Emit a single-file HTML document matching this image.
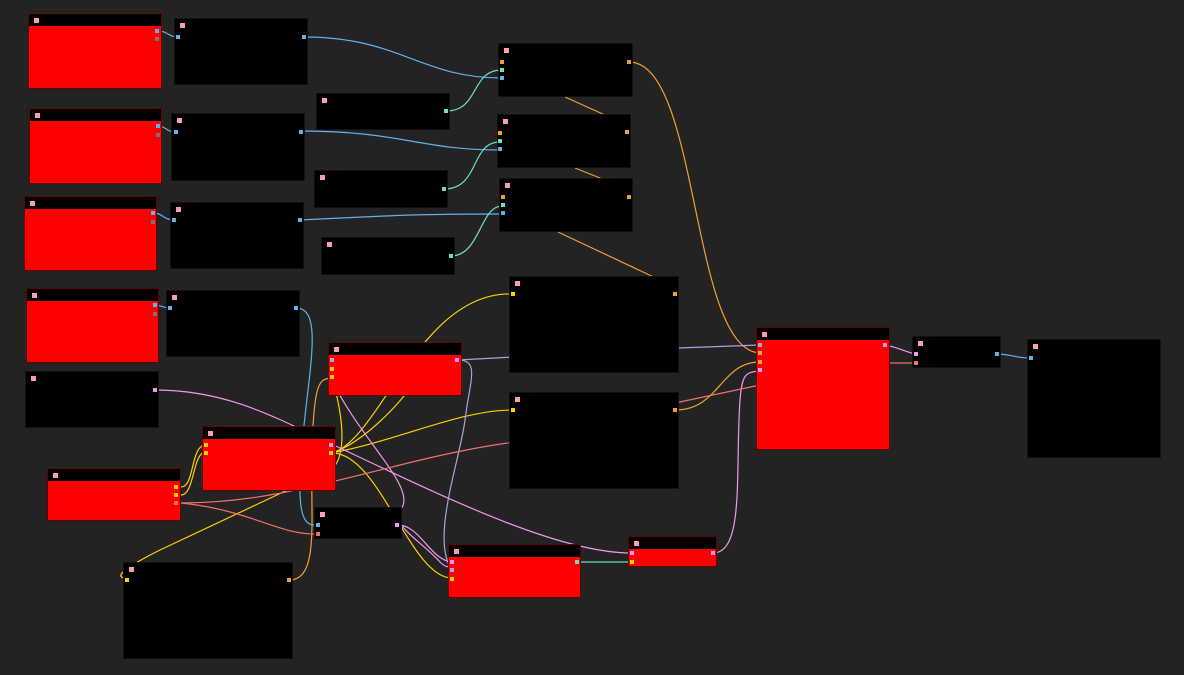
<!DOCTYPE html>
<html><head><style>
body{margin:0;width:1184px;height:675px;background:#232323;position:relative;overflow:hidden}
.n{position:absolute;background:#000;border:1px solid #111;box-sizing:border-box}
.r{background:#f00;border-color:#600}
.r::before{content:"";position:absolute;left:0;top:0;right:0;height:12px;background:#000}
.n::after{content:"";position:absolute;left:5px;top:4px;width:5px;height:5px;background:#f4a0b0}
.p{position:absolute;width:4px;height:4px}
svg{position:absolute;left:0;top:0}
</style></head><body>
<svg width="1184" height="675" fill="none" stroke-width="1.2">
<g stroke="#5fb3e8">
<path d="M158 31 C168 31,168 37,178 37"/><path d="M158 126 C166 126,166 132,176 132"/><path d="M154 213 C162 213,164 220,174 220"/><path d="M155 305 C162 305,162 308,170 308"/>
<path d="M304 37 C400 37,420 78,502 78"/><path d="M301 131 C400 131,420 150,500 150"/><path d="M300 220 C400 215,420 214,502 214"/>
<path d="M296 308 C330 308,300 400,300 490 C300 525,310 525,316 525"/><path d="M997 354 C1010 354,1015 358,1031 358"/>
</g>
<g stroke="#6ee0c0"><path d="M446 111 C480 111,470 70,502 70"/><path d="M444 189 C480 189,470 142,500 142"/><path d="M451 256 C480 256,480 206,502 206"/><path d="M577 562 L631 562"/></g>
<g stroke="#f0a030"><path d="M629 62 C700 62,690 350,760 353"/><path d="M565 97 L605 115"/><path d="M575 168 L605 180"/><path d="M558 232 L660 280 C682 290,680 296,676 294"/><path d="M675 410 C720 410,720 362,760 362"/><path d="M289 580 C320 580,310 520,312 450 C314 380,320 380,330 378"/></g>
<g stroke="#ffd000"><path d="M181 487 C195 487,190 445,206 445"/><path d="M181 495 C195 495,192 452,206 452"/><path d="M332 453 C380 440,420 290,513 294"/><path d="M332 453 C400 440,460 410,513 410"/><path d="M332 453 C380 453,410 578,452 578"/><path d="M332 453 C370 440,410 390,408 390"/><path d="M127 578 C110 578,130 565,160 550 L330 470 C340 465,350 440,332 378"/></g>
<g stroke="#ee99ee"><path d="M155 390 C230 390,280 420,340 448 C450 500,560 553,631 553"/><path d="M332 380 C360 440,420 490,400 510 C390 525,420 540,440 562 C448 570,450 565,452 566"/><path d="M713 553 C745 553,735 470,740 400 C742 375,745 372,760 371"/><path d="M886 345 C900 348,905 352,916 354"/><path d="M398 525 C420 525,430 560,452 562"/></g>
<g stroke="#b0a0e0"><path d="M458 360 C480 360,470 380,465 420 C460 460,430 540,452 570"/><path d="M458 360 L513 357"/><path d="M678 348 L760 345"/></g>
<g stroke="#f07070"><path d="M181 503 C250 503,300 490,400 465 C500 440,540 440,513 443"/><path d="M181 503 C250 510,280 535,316 534"/><path d="M675 403 L760 385"/><path d="M886 363 L916 363"/></g>
</svg>
<div class="n r" style="left:28px;top:13px;width:134px;height:76px"></div>
<div class="n r" style="left:29px;top:108px;width:133px;height:76px"></div>
<div class="n r" style="left:24px;top:196px;width:133px;height:75px"></div>
<div class="n r" style="left:26px;top:288px;width:133px;height:75px"></div>
<div class="n r" style="left:47px;top:468px;width:134px;height:53px"></div>
<div class="n r" style="left:202px;top:426px;width:134px;height:65px"></div>
<div class="n r" style="left:328px;top:342px;width:134px;height:54px"></div>
<div class="n r" style="left:448px;top:544px;width:133px;height:54px"></div>
<div class="n r" style="left:628px;top:536px;width:89px;height:31px"></div>
<div class="n r" style="left:756px;top:327px;width:134px;height:123px"></div>
<div class="n" style="left:174px;top:18px;width:134px;height:67px"></div>
<div class="n" style="left:171px;top:113px;width:134px;height:68px"></div>
<div class="n" style="left:170px;top:202px;width:134px;height:67px"></div>
<div class="n" style="left:166px;top:290px;width:134px;height:67px"></div>
<div class="n" style="left:25px;top:371px;width:134px;height:57px"></div>
<div class="n" style="left:316px;top:93px;width:134px;height:37px"></div>
<div class="n" style="left:314px;top:170px;width:134px;height:38px"></div>
<div class="n" style="left:321px;top:237px;width:134px;height:38px"></div>
<div class="n" style="left:498px;top:43px;width:135px;height:54px"></div>
<div class="n" style="left:497px;top:114px;width:134px;height:54px"></div>
<div class="n" style="left:499px;top:178px;width:134px;height:54px"></div>
<div class="n" style="left:509px;top:276px;width:170px;height:97px"></div>
<div class="n" style="left:509px;top:392px;width:170px;height:97px"></div>
<div class="n" style="left:314px;top:507px;width:88px;height:32px"></div>
<div class="n" style="left:123px;top:562px;width:170px;height:97px"></div>
<div class="n" style="left:912px;top:336px;width:89px;height:32px"></div>
<div class="n" style="left:1027px;top:339px;width:134px;height:119px"></div>
<!-- ports -->
<div class="p" style="left:155px;top:29px;background:#5fb3e8"></div><div class="p" style="left:155px;top:37px;background:#777"></div>
<div class="p" style="left:156px;top:124px;background:#5fb3e8"></div><div class="p" style="left:156px;top:133px;background:#777"></div>
<div class="p" style="left:151px;top:211px;background:#5fb3e8"></div><div class="p" style="left:151px;top:220px;background:#777"></div>
<div class="p" style="left:153px;top:303px;background:#5fb3e8"></div><div class="p" style="left:153px;top:312px;background:#777"></div>
<div class="p" style="left:176px;top:35px;background:#5fb3e8"></div><div class="p" style="left:302px;top:35px;background:#5fb3e8"></div>
<div class="p" style="left:174px;top:130px;background:#5fb3e8"></div><div class="p" style="left:299px;top:130px;background:#5fb3e8"></div>
<div class="p" style="left:172px;top:218px;background:#5fb3e8"></div><div class="p" style="left:298px;top:218px;background:#5fb3e8"></div>
<div class="p" style="left:168px;top:306px;background:#5fb3e8"></div><div class="p" style="left:294px;top:306px;background:#5fb3e8"></div>
<div class="p" style="left:153px;top:388px;background:#ee99ee"></div>
<div class="p" style="left:444px;top:109px;background:#6ee0c0"></div><div class="p" style="left:442px;top:187px;background:#6ee0c0"></div><div class="p" style="left:449px;top:254px;background:#6ee0c0"></div>
<div class="p" style="left:500px;top:60px;background:#f0a030"></div><div class="p" style="left:500px;top:68px;background:#6ee0c0"></div><div class="p" style="left:500px;top:76px;background:#5fb3e8"></div><div class="p" style="left:627px;top:60px;background:#f0a030"></div>
<div class="p" style="left:498px;top:131px;background:#f0a030"></div><div class="p" style="left:498px;top:139px;background:#6ee0c0"></div><div class="p" style="left:498px;top:147px;background:#5fb3e8"></div><div class="p" style="left:625px;top:130px;background:#f0a030"></div>
<div class="p" style="left:501px;top:195px;background:#f0a030"></div><div class="p" style="left:501px;top:203px;background:#6ee0c0"></div><div class="p" style="left:501px;top:211px;background:#5fb3e8"></div><div class="p" style="left:627px;top:195px;background:#f0a030"></div>
<div class="p" style="left:511px;top:292px;background:#ffd000"></div><div class="p" style="left:673px;top:292px;background:#f0a030"></div>
<div class="p" style="left:511px;top:408px;background:#ffd000"></div><div class="p" style="left:673px;top:408px;background:#f0a030"></div>
<div class="p" style="left:174px;top:485px;background:#ffd000"></div><div class="p" style="left:174px;top:493px;background:#ffd000"></div><div class="p" style="left:174px;top:501px;background:#f07070"></div>
<div class="p" style="left:204px;top:443px;background:#ffd000"></div><div class="p" style="left:204px;top:451px;background:#ffd000"></div><div class="p" style="left:329px;top:443px;background:#ee99ee"></div><div class="p" style="left:329px;top:451px;background:#ffd000"></div>
<div class="p" style="left:330px;top:358px;background:#b0a0e0"></div><div class="p" style="left:330px;top:367px;background:#ffd000"></div><div class="p" style="left:330px;top:375px;background:#ffd000"></div><div class="p" style="left:455px;top:358px;background:#ee99ee"></div>
<div class="p" style="left:316px;top:523px;background:#5fb3e8"></div><div class="p" style="left:316px;top:532px;background:#f07070"></div><div class="p" style="left:395px;top:523px;background:#ee99ee"></div>
<div class="p" style="left:125px;top:578px;background:#ffd000"></div><div class="p" style="left:287px;top:578px;background:#f0a030"></div>
<div class="p" style="left:450px;top:560px;background:#ee99ee"></div><div class="p" style="left:450px;top:568px;background:#b0a0e0"></div><div class="p" style="left:450px;top:577px;background:#ffd000"></div><div class="p" style="left:575px;top:560px;background:#6ee0c0"></div>
<div class="p" style="left:630px;top:551px;background:#ee99ee"></div><div class="p" style="left:630px;top:560px;background:#ffd000"></div><div class="p" style="left:711px;top:551px;background:#ee99ee"></div>
<div class="p" style="left:758px;top:343px;background:#b0a0e0"></div><div class="p" style="left:758px;top:351px;background:#f0a030"></div><div class="p" style="left:758px;top:360px;background:#f0a030"></div><div class="p" style="left:758px;top:368px;background:#ee99ee"></div><div class="p" style="left:883px;top:343px;background:#ee99ee"></div>
<div class="p" style="left:914px;top:352px;background:#ee99ee"></div><div class="p" style="left:914px;top:361px;background:#f07070"></div><div class="p" style="left:995px;top:352px;background:#5fb3e8"></div>
<div class="p" style="left:1029px;top:356px;background:#5fb3e8"></div>
</body></html>
